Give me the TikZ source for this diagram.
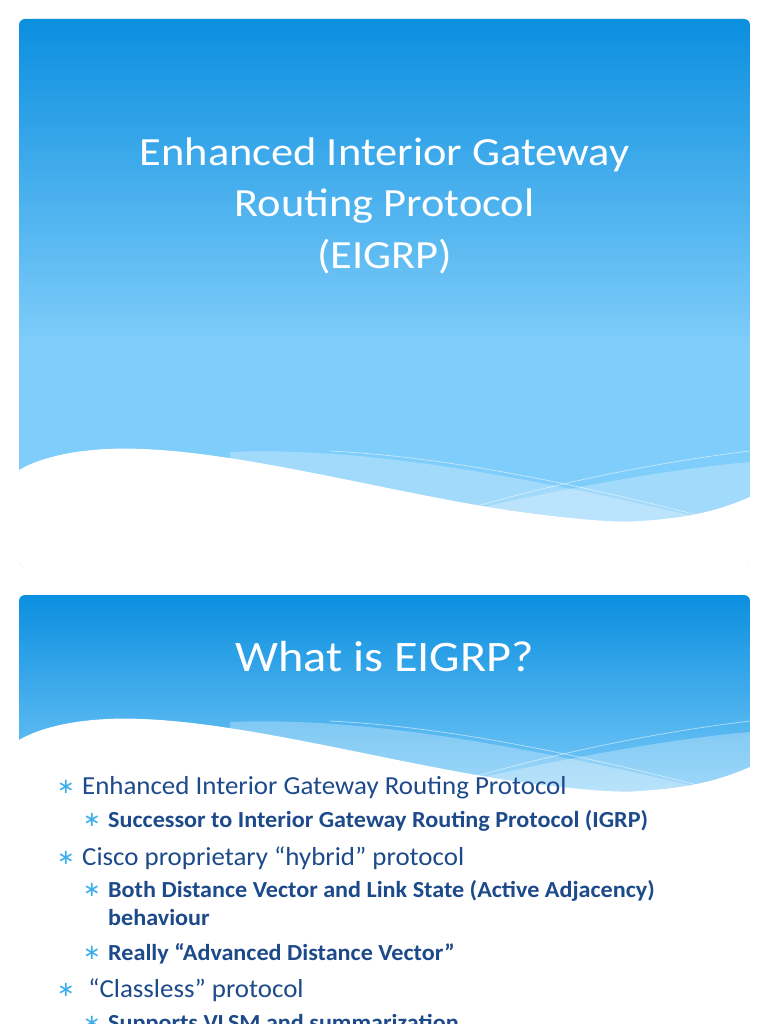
\documentclass[tikz,border=0pt]{standalone}
\usepackage{fontspec}
\setmainfont{Carlito}
\newfontfamily\titlefont{Carlito}[FakeStretch=1.11]
\newfontfamily\onefont{Carlito}[FakeStretch=1.035]
\newfontfamily\twofont{Carlito}[FakeStretch=1.05]
\newfontfamily\symfont{DejaVu Sans}
\definecolor{topblue}{HTML}{0B8FDF}
\definecolor{lightblue}{HTML}{7FCDFA}
\definecolor{bodyblue}{HTML}{1D4A8A}
\definecolor{bulletblue}{HTML}{3CAEEC}
\begin{document}
\begin{tikzpicture}[x=1pt,y=-1pt,
  titletext/.style={text=white,font=\titlefont\fontsize{40}{51}\selectfont,inner sep=0pt,anchor=base},
  lvlone/.style={text=bodyblue,font=\onefont\fontsize{26}{30}\selectfont,inner sep=0pt,anchor=base west},
  lvltwo/.style={text=bodyblue,font=\twofont\fontsize{23}{28}\selectfont\bfseries,inner sep=0pt,anchor=base west},
  bul/.style={text=bulletblue,font=\symfont\fontsize{21}{21}\selectfont,inner sep=0pt,anchor=base west},
  band/.style={fill=white,fill opacity=0.28,draw=none},
  thin/.style={draw=white,draw opacity=0.55,line width=0.7pt}]
\useasboundingbox (0,0) rectangle (768,1024);
\fill[white] (0,0) rectangle (768,1024);
% ---- wave macro
\newcommand{\mywave}{%
  \path[band] (230,452) .. controls (350,447) and (500,470) .. (702,518) -- (702,600) -- (230,600) -- cycle;
  \path[band] (478,508) .. controls (560,490) and (660,470) .. (750,462) -- (750,600) -- (478,600) -- cycle;
  \path[thin] (330,451) .. controls (450,457) and (580,485) .. (705,517);
  \path[thin] (750,451) .. controls (650,463) and (550,485) .. (470,508);
  \fill[white] (19,470) .. controls (50,452) and (100,447) .. (142,449)
     .. controls (250,453) and (400,495) .. (520,512)
     .. controls (580,520) and (620,523) .. (640,521)
     .. controls (690,518) and (720,510) .. (750,497) -- (750,600) -- (19,600) -- cycle;
}
% ---- slide 1
\begin{scope}
  \clip[rounded corners=6pt] (19,19) rectangle (750,567);
  \shade[top color=topblue,bottom color=lightblue] (19,19) rectangle (750,345);
  \fill[lightblue] (19,344) rectangle (750,567);
  \mywave
\end{scope}
\node[titletext] (t1) at (384.5,166) {Enhanced Interior Gateway};
\node[titletext] (t2) at (384.5,217) {Routing Protocol};
\node[titletext] (t3) at (384.5,268) {(EIGRP)};
% ---- slide 2
\begin{scope}
  \clip[rounded corners=6pt] (19,595) rectangle (750,1143);
  \shade[top color=topblue,bottom color=lightblue] (19,595) rectangle (750,805);
  \begin{scope}[shift={(0,270)}]
    \mywave
  \end{scope}
\end{scope}
\node[titletext,font=\titlefont\fontsize{43.5}{50}\selectfont] (s2title) at (384.5,671) {What is EIGRP?};
% bullets
\node[bul] (b1) at (57,793) {∗};
\node[lvlone] (l1) at (82,794) {Enhanced Interior Gateway Routing Protocol};
\node[bul] (b2) at (83,826) {∗};
\node[lvltwo] (l2) at (108,827) {Successor to Interior Gateway Routing Protocol (IGRP)};
\node[bul] (b3) at (57,864) {∗};
\node[lvlone] (l3) at (82,865) {Cisco proprietary “hybrid” protocol};
\node[bul] (b4) at (83,896) {∗};
\node[lvltwo] (l4) at (108,897) {Both Distance Vector and Link State (Active Adjacency)};
\node[lvltwo] (l5) at (108,925) {behaviour};
\node[bul] (b6) at (83,959) {∗};
\node[lvltwo] (l6) at (108,960) {Really “Advanced Distance Vector”};
\node[bul] (b7) at (57,996) {∗};
\node[lvlone] (l7) at (82,997) {\ “Classless” protocol};
\node[bul] (b8) at (83,1029) {∗};
\node[lvltwo] (l8) at (108,1030) {Supports VLSM and summarization};
\end{tikzpicture}
\end{document}
